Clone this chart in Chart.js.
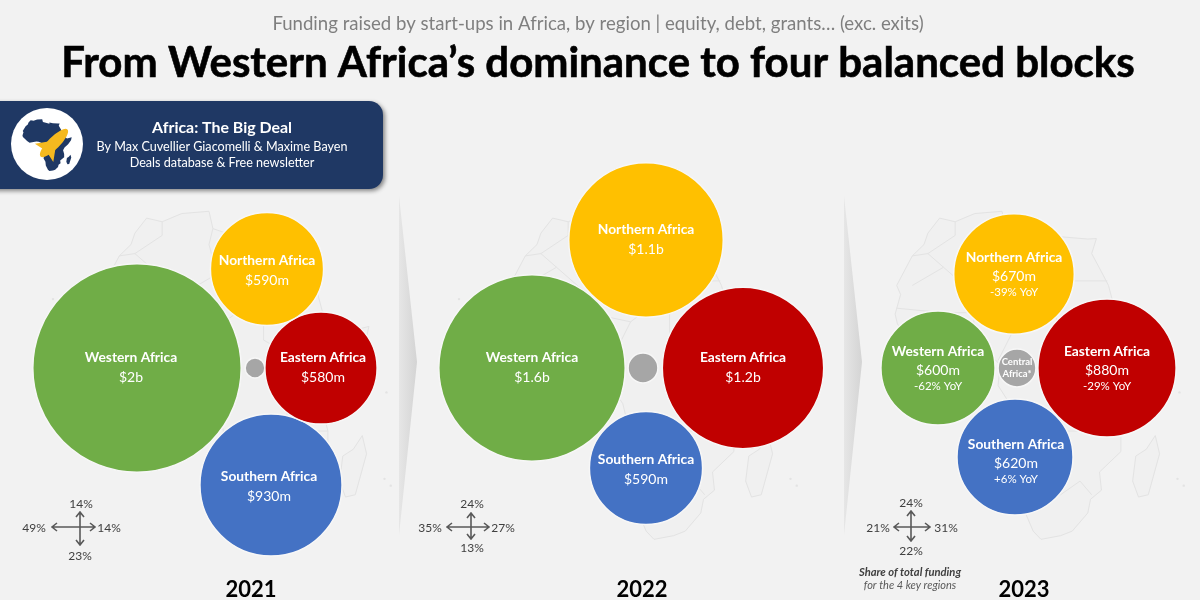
<!DOCTYPE html>
<html>
<head>
<meta charset="utf-8">
<title>Funding raised by start-ups in Africa</title>
<script src="https://cdn.jsdelivr.net/npm/chart.js@4"></script>
<style>
  html, body { margin: 0; padding: 0; background: #f2f2f2; }
  canvas { display: block; }
</style>
</head>
<body>
<canvas id="chart" width="1200" height="600"></canvas>
<script>
const years = ['2021', '2022', '2023'];

// funding in $m
const northernFunding = [590, 1100, 670];
const westernFunding = [2000, 1600, 600];
const easternFunding = [580, 1200, 880];
const southernFunding = [930, 590, 620];
const centralFunding = [18, 41, 66]; // no label in the source, read from circle size

const northernLabels = ['$590m', '$1.1b', '$670m'];
const westernLabels = ['$2b', '$1.6b', '$600m'];
const easternLabels = ['$580m', '$1.2b', '$880m'];
const southernLabels = ['$930m', '$590m', '$620m'];

const northernYoy = ['', '', '-39% YoY'];
const westernYoy = ['', '', '-62% YoY'];
const easternYoy = ['', '', '-29% YoY'];
const southernYoy = ['', '', '+6% YoY'];

// bubble centres on the 1200x600 layout axes
const northernX = [267, 646, 1014];
const northernY = [269, 240, 274];
const westernX = [137, 532, 938];
const westernY = [368, 368, 368];
const easternX = [321, 743, 1107];
const easternY = [368, 368, 368];
const southernX = [271, 646, 1015];
const southernY = [485, 468, 457];
const centralX = [255, 643, 1017];
const centralY = [368, 368, 368];

// share of total funding, %
const shareNorth = [14, 24, 24];
const shareWest = [49, 35, 21];
const shareEast = [14, 27, 31];
const shareSouth = [23, 13, 22];

const FONT = 'Lato, sans-serif';
const RADIUS_K = 2.33;

const points = (xs, ys, funding) => funding.map((v, i) => ({ x: xs[i], y: ys[i], r: Math.sqrt(v) * RADIUS_K }));

function bubble(label, color, xs, ys, funding, labels, yoy, nudgeX, nudgeY) {
  return {
    label,
    data: points(xs, ys, funding),
    backgroundColor: color,
    borderColor: '#f7f7f7',
    borderWidth: 1.5,
    hoverRadius: 0,
    clip: false,
    valueLabels: labels,
    yoyLabels: yoy,
    nudgeX: nudgeX || [0, 0, 0],
    nudgeY: nudgeY || [0, 0, 0],
  };
}

// rough coastline, lon/lat
const coast = [[-6,35.8],[-2,35],[3,36.8],[10,37.3],[11,33.5],[15,32.3],[20,31],[20,32.8],[25,31.7],[32,31.2],[34.2,31.3],[33,28],[35.5,24],[37.3,21],[39,15.5],[43,11.6],[44.5,10.5],[51,12],[50,8],[46,2.5],[41,-2],[39,-6],[40.5,-11],[40.5,-15.5],[35,-20],[35.5,-24],[32.7,-26],[32,-29],[28,-33],[25,-34],[20,-34.8],[18,-33],[15,-27],[14.5,-22],[11.8,-17],[13.7,-11],[12,-5],[9,-1],[9.5,3.5],[8.5,4.5],[5,5.8],[2,6.3],[-4,5.2],[-7.5,4.4],[-11,6.8],[-13.5,9.5],[-16.8,12.5],[-17.4,14.7],[-16,19],[-17,21],[-13,27.5],[-10,30],[-9,32.5]];
const madagascar = [[49.3,-12],[50.4,-16],[47.5,-25],[45,-25.5],[43.5,-22],[44.3,-16.5],[47,-15]];
const islands = [[56.6,-23],[55,-21.5],[55.5,-2.5],[-30,18]];
const borders = [
  [[-2,35],[-2,32],[-9,28],[-13,27.5]],
  [[-9,28],[-5,25],[3,19],[12,23.5],[10,30],[11,33.5]],
  [[-13,21],[-5,25]],
  [[-17,16],[-5,15],[3,15],[14,13],[24,19.5],[25,22]],
  [[12,23.5],[15,23],[24,19.5]],
  [[25,31.7],[25,22],[37,22]],
  [[24,19.5],[24,9],[34,4],[41,4],[46,8],[43,11.6]],
  [[34,4],[34,-1],[30,-1],[30,-11],[22,-11],[22,-18],[12,-17.5]],
  [[41,-2],[34,-1],[39,-6]],
  [[30,-11],[34,-11],[40.5,-11]],
  [[20,-18],[20,-28],[17,-29]],
  [[20,-25],[25,-25],[30,-22],[33,-25]],
  [[14,13],[9,4.5]],
  [[3,15],[2,6.3]],
  [[-8,10],[-5,15]],
];

const mapOrigins = [170, 576, 963];

const pathOf = (ctx, pts, ox, oy, sx, sy, close) => {
  ctx.beginPath();
  pts.forEach(([lon, lat], i) => {
    const px = ox + lon * sx;
    const py = oy - lat * sy;
    if (i) ctx.lineTo(px, py); else ctx.moveTo(px, py);
  });
  if (close) ctx.closePath();
};

function drawMap(ctx, originX) {
  const oy = 381, sx = 3.9, sy = 4.55;
  ctx.fillStyle = '#f0f0f0';
  ctx.strokeStyle = '#e3e3e3';
  ctx.lineWidth = 1;
  [coast, madagascar].forEach(p => {
    pathOf(ctx, p, originX, oy, sx, sy, true);
    ctx.fill();
    ctx.stroke();
  });
  borders.forEach(p => {
    pathOf(ctx, p, originX, oy, sx, sy, false);
    ctx.stroke();
  });
  ctx.fillStyle = '#e3e3e3';
  islands.forEach(([lon, lat]) => {
    ctx.beginPath();
    ctx.arc(originX + lon * sx, oy - lat * sy, 1.2, 0, Math.PI * 2);
    ctx.fill();
  });
}

function drawChevron(ctx, x) {
  const g = ctx.createLinearGradient(x, 0, x + 18, 0);
  g.addColorStop(0, '#e6e6e6');
  g.addColorStop(1, '#d4d4d4');
  ctx.fillStyle = g;
  ctx.beginPath();
  ctx.moveTo(x, 196);
  ctx.lineTo(x + 18, 362);
  ctx.lineTo(x, 535);
  ctx.closePath();
  ctx.fill();
}

function text(ctx, str, x, y, font, color) {
  ctx.font = font;
  ctx.fillStyle = color;
  ctx.fillText(str, x, y);
}

function drawCross(ctx, cx, cy, l, r, t, b) {
  ctx.strokeStyle = '#595959';
  ctx.lineWidth = 1.6;
  ctx.beginPath();
  ctx.moveTo(cx - l, cy); ctx.lineTo(cx + r, cy);
  ctx.moveTo(cx, cy - t); ctx.lineTo(cx, cy + b);
  // arrow heads
  ctx.moveTo(cx - l + 5, cy - 4); ctx.lineTo(cx - l, cy); ctx.lineTo(cx - l + 5, cy + 4);
  ctx.moveTo(cx + r - 5, cy - 4); ctx.lineTo(cx + r, cy); ctx.lineTo(cx + r - 5, cy + 4);
  ctx.moveTo(cx - 4, cy - t + 5); ctx.lineTo(cx, cy - t); ctx.lineTo(cx + 4, cy - t + 5);
  ctx.moveTo(cx - 4, cy + b - 5); ctx.lineTo(cx, cy + b); ctx.lineTo(cx + 4, cy + b - 5);
  ctx.stroke();
}

function drawBanner(ctx) {
  ctx.save();
  ctx.shadowColor = 'rgba(0,0,0,0.45)';
  ctx.shadowBlur = 4;
  ctx.shadowOffsetX = 2;
  ctx.shadowOffsetY = 2;
  ctx.fillStyle = '#1f3864';
  ctx.beginPath();
  ctx.roundRect(-20, 101, 403, 88, 14);
  ctx.fill();
  ctx.restore();

  ctx.fillStyle = '#fff';
  ctx.beginPath();
  ctx.arc(47, 144, 36, 0, Math.PI * 2);
  ctx.fill();

  ctx.fillStyle = '#1f3864';
  [coast, madagascar].forEach(p => {
    pathOf(ctx, p, 35, 146, 0.72, 0.72, true);
    ctx.fill();
  });

  // rocket
  ctx.save();
  ctx.translate(54, 143);
  ctx.rotate(Math.PI / 4);
  ctx.fillStyle = '#f5b91f';
  ctx.beginPath();
  ctx.ellipse(0, 0, 6, 19, 0, 0, Math.PI * 2);
  ctx.fill();
  ctx.beginPath();
  ctx.moveTo(-5, 3); ctx.lineTo(-13, 14); ctx.lineTo(-4, 12);
  ctx.lineTo(4, 12); ctx.lineTo(13, 14); ctx.lineTo(5, 3);
  ctx.closePath();
  ctx.fill();
  ctx.restore();

  ctx.textAlign = 'center';
  ctx.textBaseline = 'middle';
  text(ctx, 'Africa: The Big Deal', 222, 128, 'bold 15.9px ' + FONT, '#fff');
  text(ctx, 'By Max Cuvellier Giacomelli & Maxime Bayen', 222, 147, '12.6px ' + FONT, '#fff');
  text(ctx, 'Deals database & Free newsletter', 222, 163, '12.6px ' + FONT, '#fff');
}

const pageDecor = {
  id: 'pageDecor',
  beforeDatasetsDraw(chart) {
    const ctx = chart.ctx;
    ctx.save();
    ctx.fillStyle = '#f2f2f2';
    ctx.fillRect(0, 0, 1200, 600);
    mapOrigins.forEach(x => drawMap(ctx, x));
    drawChevron(ctx, 399);
    drawChevron(ctx, 844);
    ctx.restore();
  },
  afterDatasetsDraw(chart) {
    const ctx = chart.ctx;
    ctx.save();
    ctx.textAlign = 'center';
    ctx.textBaseline = 'middle';

    // labels sit on the bubbles, read position from the element
    chart.data.datasets.forEach((ds, di) => {
      const meta = chart.getDatasetMeta(di);
      meta.data.forEach((pt, i) => {
        if (!ds.valueLabels) {
          if (i === 2) {
            text(ctx, 'Central', pt.x, pt.y - 6, 'bold 9.5px ' + FONT, '#fff');
            text(ctx, 'Africa*', pt.x, pt.y + 6, 'bold 9.5px ' + FONT, '#fff');
          }
          return;
        }
        const yoy = ds.yoyLabels[i];
        const lx = pt.x + ds.nudgeX[i];
        const ly = pt.y + ds.nudgeY[i];
        text(ctx, ds.label, lx, yoy ? ly - 16 : ly - 10, 'bold 13.8px ' + FONT, '#fff');
        text(ctx, ds.valueLabels[i], lx, yoy ? ly + 2 : ly + 9, '14px ' + FONT, '#fff');
        if (yoy) text(ctx, yoy, lx, ly + 18, '11.5px ' + FONT, '#fff');
      });
    });

    text(ctx, 'Funding raised by start-ups in Africa, by region | equity, debt, grants\u2026 (exc. exits)', 598, 24, '18.6px ' + FONT, '#7f7f7f');
    text(ctx, 'From Western Africa\u2019s dominance to four balanced blocks', 598, 63, 'bold 42px ' + FONT, '#000');
    ctx.strokeStyle = '#000';
    ctx.lineWidth = 0.6;
    ctx.strokeText('From Western Africa\u2019s dominance to four balanced blocks', 598, 63);

    drawBanner(ctx);

    // share crosses
    const crossX = [80, 471, 911];
    const arms = [[28, 15, 15, 18], [24, 18, 14, 12], [17, 19, 16, 14]];
    const labelPos = [
      { t: [81, 504], l: [34, 528], r: [109, 528], b: [80, 556] },
      { t: [472, 504], l: [430, 528], r: [503, 528], b: [472, 548] },
      { t: [911, 503], l: [878, 528], r: [946, 528], b: [911, 551] },
    ];
    crossX.forEach((cx, i) => {
      drawCross(ctx, cx, 527, ...arms[i]);
      const p = labelPos[i];
      const f = '12px ' + FONT;
      text(ctx, shareNorth[i] + '%', p.t[0], p.t[1], f, '#404040');
      text(ctx, shareWest[i] + '%', p.l[0], p.l[1], f, '#404040');
      text(ctx, shareEast[i] + '%', p.r[0], p.r[1], f, '#404040');
      text(ctx, shareSouth[i] + '%', p.b[0], p.b[1], f, '#404040');
    });
    text(ctx, 'Share of total funding', 910, 572, 'italic bold 11.2px ' + FONT, '#404040');
    text(ctx, 'for the 4 key regions', 910, 585, 'italic 11px ' + FONT, '#595959');

    const yearX = [251, 642, 1024];
    years.forEach((y, i) => text(ctx, y, yearX[i], 590, 'bold 22px ' + FONT, '#000'));
    ctx.restore();
  },
};

new Chart(document.getElementById('chart'), {
  type: 'bubble',
  data: {
    datasets: [
      bubble('Northern Africa', '#ffc000', northernX, northernY, northernFunding, northernLabels, northernYoy, [0, 0, 0], [2, 0, 0]),
      bubble('Western Africa', '#70ad47', westernX, westernY, westernFunding, westernLabels, westernYoy, [-6, 0, 0], [0, 0, 0]),
      bubble('Eastern Africa', '#c00000', easternX, easternY, easternFunding, easternLabels, easternYoy, [2, 0, 0], [0, 0, 0]),
      bubble('Southern Africa', '#4472c4', southernX, southernY, southernFunding, southernLabels, southernYoy, [-2, 0, 1], [2, 2, 4]),
      { ...bubble('Central Africa', '#a6a6a6', centralX, centralY, centralFunding), valueLabels: null },
    ],
  },
  options: {
    responsive: false,
    devicePixelRatio: 1,
    animation: false,
    layout: { padding: 0, autoPadding: false },
    plugins: { legend: { display: false }, tooltip: { enabled: false } },
    scales: {
      x: { type: 'linear', min: 0, max: 1200, display: false },
      y: { type: 'linear', min: 0, max: 600, reverse: true, display: false },
    },
  },
  plugins: [pageDecor],
});
</script>
</body>
</html>
